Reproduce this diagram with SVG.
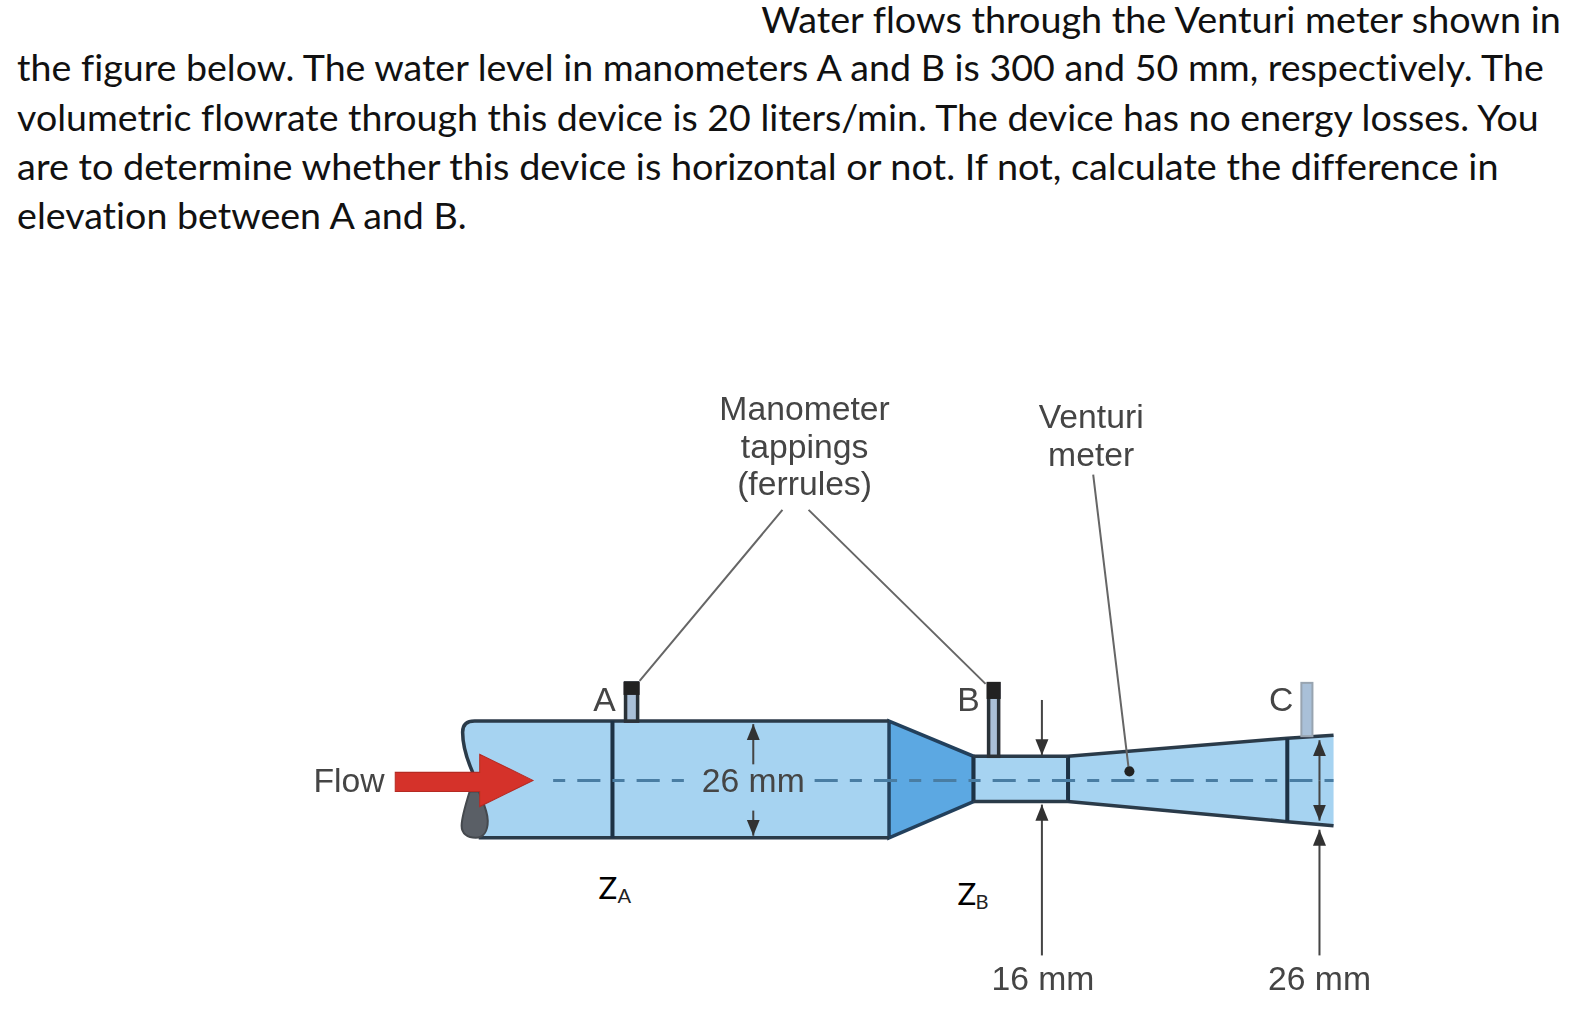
<svg xmlns="http://www.w3.org/2000/svg" width="1575" height="1036" viewBox="0 0 1575 1036">
<style>
.q{font:36px Lato,"Liberation Sans",sans-serif;fill:#111;font-variant-ligatures:none}
.l{font:33.5px "Liberation Sans",Arial,sans-serif;fill:#444;text-anchor:middle}
.z{font:31px Lato,"Liberation Sans",sans-serif;fill:#000}
.zs{font:20px Lato,"Liberation Sans",sans-serif;fill:#222}
.ol{stroke:#2c3a4a;stroke-width:3.5;fill:none}
.sec{stroke:#1f3045;stroke-width:4;fill:none}
.tube{fill:#a9c0d8;stroke:#2c3038;stroke-width:3.5}
.lead{stroke:#666;stroke-width:2;fill:none}
.dim{stroke:#444;stroke-width:2;fill:none}
.cl{stroke:#4a7da3;stroke-width:3;stroke-dasharray:12 12 23 12;fill:none}
</style>
<defs>
<marker id="ah" markerWidth="16" markerHeight="14" refX="16" refY="6.5" orient="auto" markerUnits="userSpaceOnUse" viewBox="0 0 16 13"><path d="M0 0L16 6.5L0 13Z" fill="#333"/></marker>
<filter id="soft" x="-2%" y="-2%" width="104%" height="104%"><feGaussianBlur stdDeviation="0.6"/></filter>
</defs>
<rect width="1575" height="1036" fill="#fff"/>
<g transform="scale(1.0057)">
<g id="question">
<text class="q" x="757" y="33" textLength="795" lengthAdjust="spacingAndGlyphs">Water flows through the Venturi meter shown in</text>
<text class="q" x="17" y="81" textLength="1518" lengthAdjust="spacingAndGlyphs">the figure below. The water level in manometers A and B is 300 and 50 mm, respectively. The</text>
<text class="q" x="17" y="130" textLength="1513" lengthAdjust="spacingAndGlyphs">volumetric flowrate through this device is 20 liters/min. The device has no energy losses. You</text>
<text class="q" x="17" y="179" textLength="1473" lengthAdjust="spacingAndGlyphs">are to determine whether this device is horizontal or not. If not, calculate the difference in</text>
<text class="q" x="17" y="228" textLength="447" lengthAdjust="spacingAndGlyphs">elevation between A and B.</text>
</g>
<g filter="url(#soft)">
<g id="venturi-body">
<path d="M1326 731L1280 734L1062 752L968 752L884 717L472 717Q460 717 460 728Q460 745 470 770L470 833L884 833L968 797L1062 797L1280 817L1326 821Z" fill="#a6d3f1"/>
<path d="M884 717L968 752L968 797L884 833Z" fill="#5ca8e2" stroke="#24405c" stroke-width="3.5"/>
<rect x="968" y="752" width="94" height="45" fill="#a6d3f1"/>
<path class="ol" d="M1326 731L1280 734L1062 752M1326 821L1280 817L1062 797"/>
<path class="ol" d="M884 717L472 717Q460 717 460 728Q460 745 470 768M476 833L884 833"/>
<path class="sec" d="M609 717V833M968 752V797M1062 752V797M1280 734V817"/>
<path class="ol" d="M968 752H1062M968 797H1062"/>
<path d="M467 787C462 803 459 813 459 821C459 829 465 833 473 833C481 833 485 826 485 816C485 806 479 795 476 787Z" fill="#5a5f66" stroke="#44484e" stroke-width="2"/>
<path class="cl" d="M550 776H680"/>
<path class="cl" stroke-dashoffset="24" d="M810 776H1326"/>
</g>
<g id="flow">
<text class="l" x="347" y="788">Flow</text>
<path d="M393 768H477V750L530 776L477 802V787H393Z" fill="#d5322a" stroke="#b52a24" stroke-width="1"/>
</g>
<g id="tapping-a">
<rect x="622" y="679" width="12" height="38" class="tube"/>
<rect x="620" y="678" width="16" height="13" fill="#222"/>
<text class="l" x="601" y="707">A</text>
</g>
<g id="tapping-b">
<rect x="983" y="680" width="10" height="72" class="tube"/>
<rect x="981" y="678" width="14" height="17" fill="#222"/>
<text class="l" x="963" y="707">B</text>
</g>
<g id="tapping-c">
<rect x="1294" y="679" width="11" height="53" fill="#a9c0d8" stroke="#98a4b0" stroke-width="2"/>
<text class="l" x="1274" y="707">C</text>
</g>
<g id="labels">
<text class="l" x="800" y="418">Manometer</text>
<text class="l" x="800" y="455">tappings</text>
<text class="l" x="800" y="492">(ferrules)</text>
<text class="l" x="1085" y="426">Venturi</text>
<text class="l" x="1085" y="463">meter</text>
<text class="l" x="749" y="788">26 mm</text>
<text class="l" x="1037" y="984">16 mm</text>
<text class="l" x="1312" y="984">26 mm</text>
</g>
<g id="connectors">
<path class="lead" d="M778 507L636 677M804 507L980 680M1087 472L1122 762"/>
<circle cx="1123" cy="767" r="5" fill="#222"/>
<path class="dim" marker-end="url(#ah)" d="M749 760V720"/>
<path class="dim" marker-end="url(#ah)" d="M749 806V831"/>
<path class="dim" marker-end="url(#ah)" d="M1036 696V751"/>
<path class="dim" marker-end="url(#ah)" d="M1036 950V800"/>
<path class="dim" marker-end="url(#ah)" d="M1312 776V736"/>
<path class="dim" marker-end="url(#ah)" d="M1312 776V816"/>
<path class="dim" marker-end="url(#ah)" d="M1312 950V825"/>
</g>
</g>
<g id="z-labels">
<text class="z" x="595" y="894">Z</text><text class="zs" x="614" y="898">A</text>
<text class="z" x="952" y="900">Z</text><text class="zs" x="970" y="904">B</text>
</g>
</g>
</svg>
